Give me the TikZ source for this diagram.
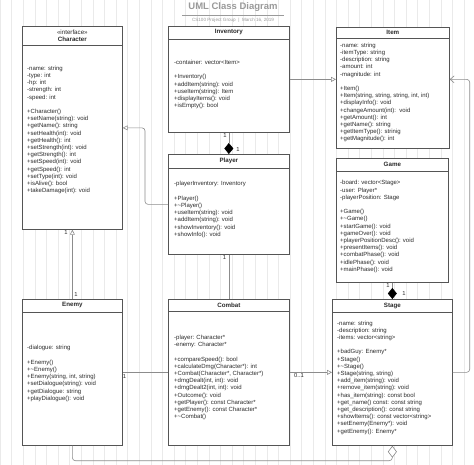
\documentclass[tikz,border=0pt]{standalone}
\usepackage{fontspec}
\setmainfont{Liberation Sans}
\usetikzlibrary{arrows.meta,calc}
\definecolor{boxc}{HTML}{555555}
\definecolor{linkc}{HTML}{8C8C8C}
\definecolor{txtc}{HTML}{2B2B2B}
\definecolor{gridc}{HTML}{EAEAEA}
\definecolor{titlec}{HTML}{9A9A9A}

% class box: name, x, y, width, height, header height, title
\newcommand{\umlclass}[7]{%
  \node[cls, minimum width=#4pt, minimum height=#5pt] (#1) at (#2,#3) {};
  \draw[boxc, line width=0.7pt] ($(#1.north west)+(0,#6)$) -- ($(#1.north east)+(0,#6)$);
  \node[hdr] (#1-title) at ($(#1.north)+(0,#6/2)$) {#7};
}
\newcommand{\tld}{\textasciitilde}

\begin{document}
\begin{tikzpicture}[x=1pt,y=-1pt,
  cls/.style={draw=boxc, line width=0.7pt, fill=white, anchor=north west, inner sep=0pt},
  hdr/.style={font=\fontsize{6.2}{6.8}\selectfont\bfseries, text=txtc, align=center, inner sep=0pt},
  body/.style={font=\fontsize{6}{7.2}\selectfont, text=txtc, align=left, anchor=west, inner sep=0pt},
  link/.style={draw=linkc, line width=0.6pt, rounded corners=3pt},
  mult/.style={font=\fontsize{5.8}{6}\selectfont, text=txtc, inner sep=0pt},
  gen/.style={-{Triangle[length=5pt,width=5pt,fill=white]}},
  comp/.style={-{Diamond[length=11pt,width=9pt,color=black]}},
  aggr/.style={-{Diamond[length=12pt,width=9pt,fill=white]}},
  assoc/.style={-{Straight Barb[length=4pt,width=7pt]}}
]
\useasboundingbox (0,0) rectangle (474,465);
\fill[white] (0,0) rectangle (474,465);
\draw[gridc, line width=0.3pt, step=11.6] (0,0) grid (474,465);

% title block
\node[font=\fontsize{9.5}{10}\selectfont\bfseries, text=titlec] (title) at (233,7) {UML Class Diagram};
\draw[titlec, line width=0.6pt] (182,15) coordinate (ul-a) -- (284,15) coordinate (ul-b);
\node[font=\fontsize{4.6}{5}\selectfont, text=titlec] (subtitle) at (233,20) {CS100 Project Group \ | \ March 16, 2019};

% classes
\umlclass{char}{22}{26}{100}{203}{19}{{\mdseries<<interface>>}\\Character}
\node[body] (char-body) at (27,130) {-name: string\\-type: int\\-hp: int\\-strength: int\\-speed: int\\[7.2pt]
+Character()\\+setName(string): void\\+getName(): string\\+setHealth(int): void\\+getHealth(): int\\+setStrength(int): void\\+getStrength(): int\\+setSpeed(int): void\\+getSpeed(): int\\+setType(int): void\\+isAlive(): bool\\+takeDamage(int): void};

\umlclass{inv}{168}{26}{121}{106}{13}{Inventory}
\node[body] (inv-body) at (174,84.5) {-container: vector<Item>\\[7.2pt]
+Inventory()\\+addItem(string): void\\+useItem(string): Item\\+displayItems(): void\\+isEmpty(): bool};

\umlclass{item}{336}{27}{113}{121}{11}{Item}
\node[body] (item-body) at (340,92.5) {-name: string\\-itemType: string\\-description: string\\-amount: int\\-magnitude: int\\[7.2pt]
+Item()\\+Item(string, string, string, int, int)\\+displayInfo(): void\\+changeAmount(int):\ \ void\\+getAmount(): int\\+getName(): string\\+getItemType(): strinig\\+getMagnitude(): int};

\umlclass{player}{168}{154}{121}{100}{14}{Player}
\node[body] (player-body) at (174,209.5) {-playerInventory: Inventory\\[7.2pt]
+Player()\\+\tld Player()\\+useItem(string): void\\+addItem(string): void\\+showInventory(): void\\+showInfo(): void};

\umlclass{game}{336}{158}{112}{124}{13}{Game}
\node[body] (game-body) at (340,226.5) {-board: vector<Stage>\\-user: Player*\\-playerPosition: Stage\\[7.2pt]
+Game()\\+\tld Game()\\+startGame(): void\\+gameOver(): void\\+playerPositionDesc(): void\\+presentItems(): void\\+combatPhase(): void\\+idlePhase(): void\\+mainPhase(): void};

\umlclass{enemy}{22}{299}{100}{146}{13}{Enemy}
\node[body] (enemy-body) at (27,373.5) {-dialogue: string\\[7.2pt]
+Enemy()\\+\tld Enemy()\\+Enemy(string, int, string)\\+setDialogue(string): void\\+getDialogue: string\\+playDialogue(): void};

\umlclass{combat}{168}{299}{121}{146}{12}{Combat}
\node[body] (combat-body) at (174,377.5) {-player: Character*\\-enemy: Character*\\[7.2pt]
+compareSpeed(): bool\\+calculateDmg(Character*): int\\+Combat(Character*, Character*)\\+dmgDealt(int, int): void\\+dmgDealt2(int, int): void\\+Outcome(): void\\+getPlayer(): const Character*\\+getEnemy(): const Character*\\+\tld Combat()};

\umlclass{stage}{332}{299}{120}{146}{13}{Stage}
\node[body] (stage-body) at (337,377.5) {-name: string\\-description: string\\-items: vector<string>\\[7.2pt]
+badGuy: Enemy*\\+Stage()\\+\tld Stage()\\+Stage(string, string)\\+add\_item(string): void\\+remove\_item(string): void\\+has\_item(string): const bool\\+get\_name() const: const string\\+get\_description(): const string\\+showItems(): const vector<string>\\+setEnemy(Enemy*): void\\+getEnemy(): Enemy*};

% relations
\draw[link, gen] (inv.east) -- (item.west |- inv.east);
\draw[link, gen] (player.west) -- ++(-23,0) |- (char.east);
\draw[link, comp] (inv.south) -- (player.north);
\node[mult] (m-inv) at (225,135.5) {1};
\node[mult] (m-pl1) at (238,150) {1};
\draw[link] (player.south) -- (combat.north);
\node[mult] (m-pl2) at (224.5,258) {1};
\draw[link, gen] (enemy.north) -- (char.south);
\node[mult] (m-ch) at (66,233) {1};
\node[mult] (m-en1) at (76,295) {1};
\draw[link] (enemy.east) -- (combat.west);
\node[mult] (m-en2) at (124.5,377) {1};
\draw[link, gen] (combat.east) -- (stage.west);
\node[mult] (m-cb) at (299,376) {0..1};
\draw[link, comp] (game.south) -- (stage.north);
\node[mult] (m-gm) at (388,285.5) {1};
\node[mult] (m-st) at (404,294) {1};
\draw[link, assoc] (stage.east) -- ++(17,0) |- (item.east |- inv.east);
\draw[link, aggr] (enemy.south) -- ++(0,15) -| (stage.south);
\end{tikzpicture}
\end{document}
